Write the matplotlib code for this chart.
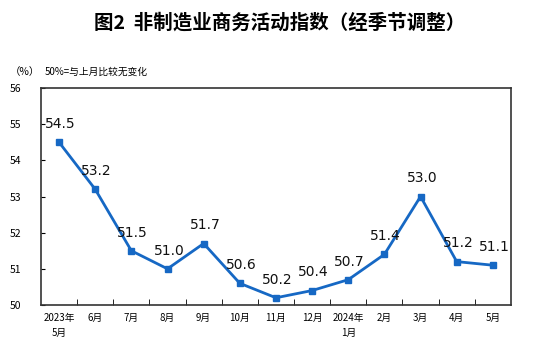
import matplotlib
matplotlib.use('Agg')
import matplotlib.pyplot as plt
from matplotlib.ticker import FixedLocator, NullFormatter

plt.rcParams['font.family'] = ['Noto Sans CJK SC', 'DejaVu Sans']

months = ['2023年\n5月', '6月', '7月', '8月', '9月', '10月', '11月', '12月',
          '2024年\n1月', '2月', '3月', '4月', '5月']
values = [54.5, 53.2, 51.5, 51.0, 51.7, 50.6, 50.2, 50.4, 50.7, 51.4, 53.0, 51.2, 51.1]

color = '#1668c4'

fig = plt.figure(figsize=(5.59, 3.52), dpi=100)
ax = fig.add_axes([0.0733, 0.1335, 0.8407, 0.6165])

x = list(range(len(values)))
ax.plot(x, values, color=color, linewidth=2, marker='s', markersize=5)

for i, v in enumerate(values):
    ax.annotate(f'{v:.1f}', (i, v), xytext=(1, 8), textcoords='offset points',
                ha='center', va='bottom', fontsize=10, family='DejaVu Sans', color='#111111')

ax.set_xlim(-0.5, len(values) - 0.5)
ax.set_ylim(50, 56)
ax.set_yticks(range(50, 57))
ax.set_yticklabels([str(v) for v in range(50, 57)], fontsize=7.5)
ax.tick_params(axis='y', direction='in', length=3, pad=14)

ax.set_xticks(x)
ax.set_xticklabels(months, fontsize=7, va='top', linespacing=1.6)
ax.tick_params(axis='x', which='major', length=0, pad=6)
ax.xaxis.set_minor_locator(FixedLocator([i + 0.5 for i in range(len(values) - 1)]))
ax.xaxis.set_minor_formatter(NullFormatter())
ax.tick_params(axis='x', which='minor', direction='in', length=4)

for s in ax.spines.values():
    s.set_color('#333333')
    s.set_linewidth(1.2)

fig.text(0.5, 0.935, '图2  非制造业商务活动指数（经季节调整）', ha='center', va='center',
         fontsize=14, fontweight='bold')
fig.text(0.018, 0.795, '（%）', ha='left', va='center', fontsize=7.5)
fig.text(0.08, 0.795, '50%=与上月比较无变化', ha='left', va='center', fontsize=7)

fig.savefig('out.png', dpi=100)
